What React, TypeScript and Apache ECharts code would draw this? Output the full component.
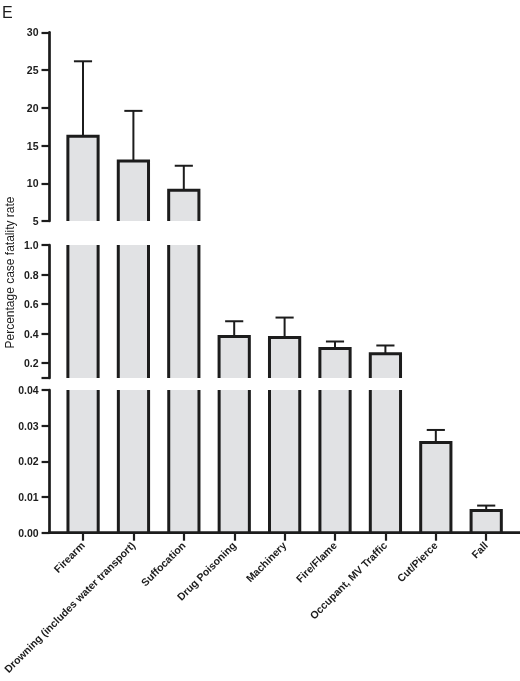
import React, { useEffect, useRef } from "react";
import * as echarts from "echarts";

const categories = [
  "Firearm",
  "Drowning (includes water transport)",
  "Suffocation",
  "Drug Poisoning",
  "Machinery",
  "Fire/Flame",
  "Occupant, MV Traffic",
  "Cut/Pierce",
  "Fall",
];
const rates = [16.24, 12.94, 9.06, 0.38, 0.374, 0.3, 0.264, 0.0253, 0.0062];
const errorUpper = [26.16, 19.59, 12.32, 0.484, 0.509, 0.347, 0.32, 0.0288, 0.0076];

const panelMin = [5, 0.1, 0];
const panelMax = [30, 1.0, 0.04];
const panelInterval = [5, null, 0.01];
const panelDigits = [0, 1, 2];
const midTickValues = [0.1, 0.2, 0.4, 0.6, 0.8, 1.0];
const midLabelValues = [0.2, 0.4, 0.6, 0.8, 1.0];
const yTitle = "Percentage case fatality rate";
const panelLetter = "E";

const INK = "#1c1c1c";
const FILL = "#e1e2e4";
const FONT = "'Liberation Sans', Arial, Helvetica, sans-serif";

const GRID_LEFT = 57.8;
const GRID_RIGHT = 8.6;
const AXIS_OFFSET = 8.3;
const panelTop = [32.3, 245, 390];
const panelHeight = [188.7, 133, 142.7];

function makeRender(pi: number) {
  return (params: any, api: any) => {
    const i = api.value(0);
    const v = api.value(1);
    const e = api.value(2);
    const lo = panelMin[pi];
    const hi = panelMax[pi];
    if (v <= lo) return null;
    const band = api.size([1, 0])[0];
    const w = band * 0.6;
    const capped = v <= hi;
    const vt = Math.min(v, hi);
    const pt = api.coord([i, vt]);
    const pb = api.coord([i, lo]);
    const cx = pt[0];
    const x0 = cx - w / 2;
    const x1 = cx + w / 2;
    const yt = pt[1];
    const yb = pb[1];
    const children: any[] = [];
    if (capped) {
      const pe = api.coord([i, e]);
      const cap = w * 0.3;
      children.push({
        type: "line",
        shape: { x1: cx, y1: yt, x2: cx, y2: pe[1] },
        style: { stroke: INK, lineWidth: 2 },
      });
      children.push({
        type: "line",
        shape: { x1: cx - cap, y1: pe[1], x2: cx + cap, y2: pe[1] },
        style: { stroke: INK, lineWidth: 2 },
      });
    }
    children.push({
      type: "rect",
      shape: { x: x0, y: yt, width: w, height: yb - yt },
      style: { fill: FILL },
    });
    if (capped) {
      children.push({
        type: "polyline",
        shape: { points: [[x0, yb], [x0, yt], [x1, yt], [x1, yb]] },
        style: { stroke: INK, lineWidth: 3, fill: null, lineJoin: "miter" },
      });
    } else {
      children.push({
        type: "line",
        shape: { x1: x0, y1: yt, x2: x0, y2: yb },
        style: { stroke: INK, lineWidth: 3 },
      });
      children.push({
        type: "line",
        shape: { x1: x1, y1: yt, x2: x1, y2: yb },
        style: { stroke: INK, lineWidth: 3 },
      });
    }
    return { type: "group", children };
  };
}

export default function App() {
  const ref = useRef<HTMLDivElement>(null);
  useEffect(() => {
    if (!ref.current) return;
    const chart = echarts.init(ref.current, null, { renderer: "svg" });
    const data = categories.map((_, i) => [i, rates[i], errorUpper[i]]);
    const labelStyle = {
      color: INK,
      fontSize: 10.5,
      fontWeight: "bold" as const,
      fontFamily: FONT,
    };
    const grids = panelTop.map((t, pi) => ({
      left: GRID_LEFT,
      right: GRID_RIGHT,
      top: t,
      height: panelHeight[pi],
    }));
    const xAxes = panelTop.map((_, pi) => {
      if (pi < 2) {
        return { gridIndex: pi, type: "category", data: categories, show: false };
      }
      return {
        gridIndex: pi,
        type: "category",
        data: categories,
        axisLine: { show: false },
        axisTick: {
          show: true,
          alignWithLabel: true,
          interval: 0,
          length: 8,
          lineStyle: { color: INK, width: 2.2 },
        },
        axisLabel: { ...labelStyle, interval: 0, rotate: 45, margin: 11 },
      };
    });
    const yAxes = panelTop.map((_, pi) => {
      const base: any = {
        gridIndex: pi,
        type: "value",
        min: panelMin[pi],
        max: panelMax[pi],
        offset: AXIS_OFFSET,
        splitLine: { show: false },
        axisLine: { show: true, lineStyle: { color: INK, width: 2.7 } },
        axisTick: { show: true, length: 8, lineStyle: { color: INK, width: 2.2 } },
        axisLabel: {
          ...labelStyle,
          margin: 11,
          formatter: (v: number) => v.toFixed(panelDigits[pi]),
        },
      };
      if (panelInterval[pi] != null) {
        base.interval = panelInterval[pi];
      } else {
        base.axisTick.customValues = midTickValues;
        base.axisLabel.customValues = midLabelValues;
      }
      return base;
    });
    const series = panelTop.map((_, pi) => ({
      type: "custom",
      xAxisIndex: pi,
      yAxisIndex: pi,
      renderItem: makeRender(pi),
      encode: { x: 0, y: 1 },
      data,
    }));
    const axisX = GRID_LEFT - AXIS_OFFSET;
    const axisBottom = panelTop[2] + panelHeight[2];
    chart.setOption({
      animation: false,
      grid: grids,
      xAxis: xAxes,
      yAxis: yAxes,
      series,
      graphic: [
        {
          type: "line",
          shape: { x1: axisX - 1.35, y1: axisBottom, x2: 520, y2: axisBottom },
          style: { stroke: INK, lineWidth: 2.7 },
          z: 10,
        },
        {
          type: "text",
          x: 10,
          y: (panelTop[0] + panelTop[2] + panelHeight[2]) / 2 - 10,
          rotation: Math.PI / 2,
          style: {
            text: yTitle,
            fontSize: 12,
            fontFamily: FONT,
            fill: INK,
            align: "center",
            verticalAlign: "middle",
          },
        },
        {
          type: "text",
          x: 2,
          y: 4,
          style: {
            text: panelLetter,
            fontSize: 16,
            fontFamily: FONT,
            fill: INK,
            align: "left",
            verticalAlign: "top",
          },
        },
      ],
    });
    return () => chart.dispose();
  }, []);
  return (
    <div
      ref={ref}
      style={{ position: "fixed", left: 0, top: 0, width: 520, height: 681 }}
    />
  );
}
